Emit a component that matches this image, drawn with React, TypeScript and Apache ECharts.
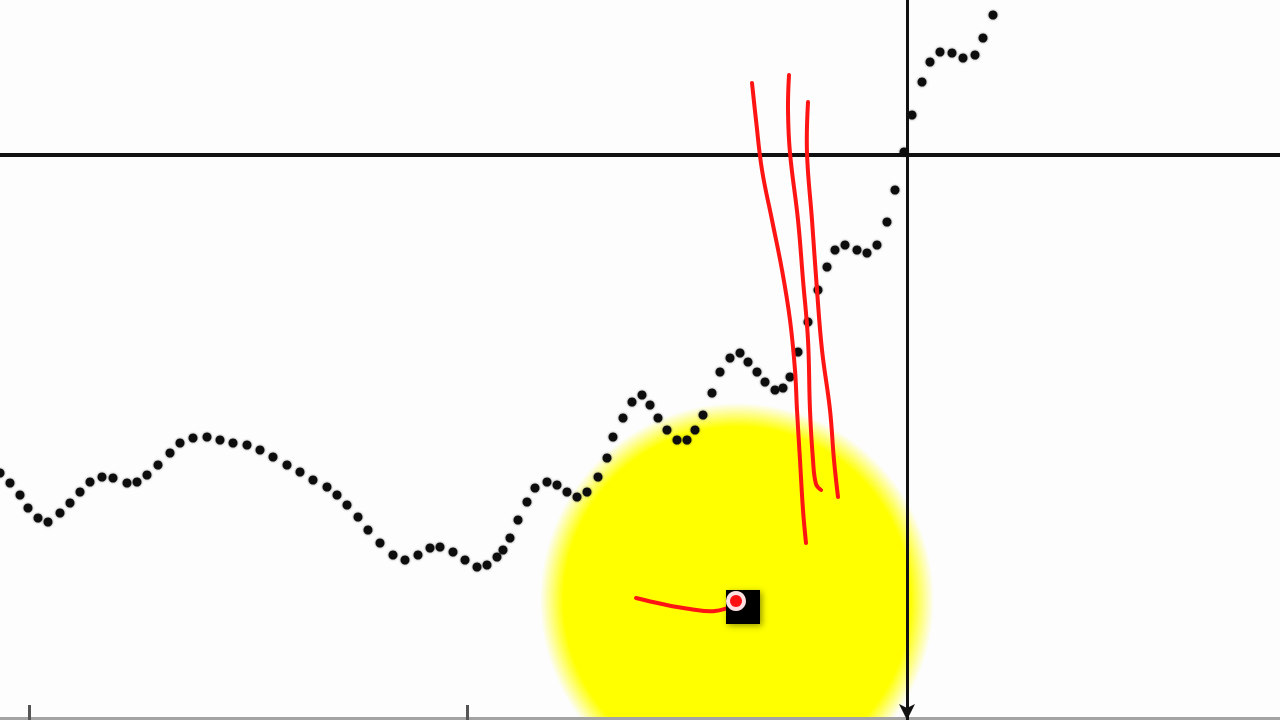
import React, { useEffect, useRef } from "react";
import * as echarts from "echarts";

// Sampled curve (x relative to the vertical axis, y relative to the horizontal axis)
const CURVE_X = [
  -907, -897, -887, -879, -869, -859, -847, -837, -827, -817, -805, -794, -780, -770, -760, -749,
  -737, -727, -714, -700, -687, -674, -660, -647, -634, -620, -607, -594, -580, -570, -560, -549,
  -539, -527, -514, -502, -489, -477, -467, -454, -442, -430, -420, -410, -404, -397, -389, -380,
  -372, -360, -350, -340, -330, -320, -309, -300, -294, -284, -275, -265, -257, -249, -240, -230,
  -220, -212, -204, -195, -187, -177, -167, -159, -150, -142, -132, -124, -117, -109, -99, -89,
  -80, -72, -62, -50, -40, -30, -20, -12, -3, 5, 15, 23, 33, 45, 56, 68, 76, 86,
];
const CURVE_Y = [
  -318, -328, -340, -353, -363, -367, -358, -348, -337, -327, -322, -323, -328, -327, -320, -310,
  -298, -288, -283, -282, -285, -288, -290, -295, -302, -310, -317, -325, -332, -340, -350, -362,
  -375, -388, -400, -405, -400, -393, -392, -397, -405, -412, -410, -402, -395, -383, -365, -347,
  -333, -327, -330, -337, -342, -337, -322, -303, -282, -263, -247, -240, -250, -263, -275, -285,
  -285, -275, -260, -238, -217, -203, -198, -207, -217, -227, -235, -233, -222, -197, -167, -135,
  -112, -95, -90, -95, -98, -90, -67, -35, 3, 40, 73, 93, 103, 102, 97, 100, 117, 140,
];

// Axis extents and bottom ruler ticks
const X_MIN = -907;
const X_MAX = 373;
const Y_MIN = -565;
const Y_MAX = 155;
const RULER_TICKS = [-878, -440];

export default function App() {
  const ref = useRef<HTMLDivElement>(null);

  useEffect(() => {
    if (!ref.current) return;
    const chart = echarts.init(ref.current, null, { renderer: "svg" });
    const data = CURVE_X.map((x, i) => [x, CURVE_Y[i]]);

    const red = "#ff1414";
    const scribble = (points: number[][], w = 4) => ({
      type: "polyline",
      z: 100,
      shape: { points, smooth: 0.4 },
      style: { stroke: red, lineWidth: w, fill: null, lineCap: "round", lineJoin: "round" },
    });

    chart.setOption({
      animation: false,
      backgroundColor: "#fdfdfd",
      grid: { left: 0, right: 0, top: 0, bottom: 0, containLabel: false },
      xAxis: [
        {
          type: "value",
          min: X_MIN,
          max: X_MAX,
          axisLine: { show: true, onZero: true, lineStyle: { color: "#111", width: 4 } },
          axisTick: { show: false },
          axisLabel: { show: false },
          splitLine: { show: false },
          z: 5,
        },
        {
          type: "value",
          position: "bottom",
          min: X_MIN,
          max: X_MAX,
          axisLine: { show: true, onZero: false, lineStyle: { color: "#a3a3a3", width: 6 } },
          axisTick: {
            show: true,
            inside: true,
            length: 15,
            customValues: RULER_TICKS,
            lineStyle: { color: "#555", width: 3 },
          },
          axisLabel: { show: false },
          splitLine: { show: false },
        },
      ],
      yAxis: {
        type: "value",
        min: Y_MIN,
        max: Y_MAX,
        axisLine: {
          show: true,
          onZero: true,
          onZeroAxisIndex: 0,
          symbol: ["arrow", "none"],
          symbolSize: [12, 16],
          lineStyle: { color: "#111", width: 3 },
        },
        axisTick: { show: false },
        axisLabel: { show: false },
        splitLine: { show: false },
        z: 5,
      },
      series: [
        {
          type: "scatter",
          xAxisIndex: 0,
          yAxisIndex: 0,
          data,
          symbol: "circle",
          symbolSize: 9,
          itemStyle: { color: "#111", opacity: 1, shadowBlur: 2, shadowColor: "rgba(0,0,0,0.5)" },
          z: 10,
        },
      ],
      graphic: [
        {
          type: "circle",
          z: -10,
          silent: true,
          shape: { cx: 737, cy: 600, r: 197 },
          style: {
            fill: {
              type: "radial",
              x: 0.5,
              y: 0.5,
              r: 0.5,
              colorStops: [
                { offset: 0, color: "#ffff00" },
                { offset: 0.88, color: "#ffff00" },
                { offset: 1, color: "rgba(255,255,0,0)" },
              ],
            },
          },
        },
        scribble([
          [752, 83], [756, 120], [762, 170], [772, 220], [782, 270], [790, 320],
          [795, 370], [797, 410], [800, 460], [803, 510], [806, 543],
        ]),
        scribble([
          [789, 75], [788, 110], [790, 153], [798, 220], [803, 280], [808, 340],
          [810, 410], [813, 460], [816, 484], [821, 490],
        ]),
        scribble([
          [808, 102], [807, 153], [812, 220], [817, 290], [822, 350], [830, 410],
          [834, 460], [838, 497],
        ]),
        scribble([
          [636, 598], [662, 604], [690, 609], [715, 611], [735, 605],
        ]),
        {
          type: "rect",
          z: 101,
          shape: { x: 726, y: 590, width: 34, height: 34 },
          style: { fill: "#000", shadowBlur: 6, shadowColor: "rgba(0,0,0,0.4)", shadowOffsetX: 2, shadowOffsetY: 2 },
        },
        {
          type: "circle",
          z: 102,
          shape: { cx: 736, cy: 601, r: 10 },
          style: { fill: "#ffe0e0" },
        },
        {
          type: "circle",
          z: 103,
          shape: { cx: 736, cy: 601, r: 6 },
          style: { fill: "#ff1010" },
        },
      ],
    });

    return () => chart.dispose();
  }, []);

  return (
    <div
      ref={ref}
      style={{ position: "fixed", left: 0, top: 0, width: 1280, height: 720, background: "#fdfdfd" }}
    />
  );
}
